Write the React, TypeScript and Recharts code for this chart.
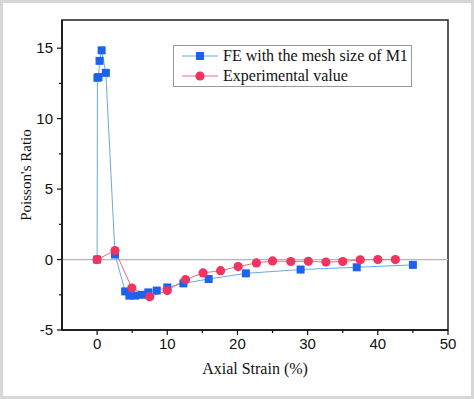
import { LineChart, Line, XAxis, YAxis, ReferenceLine, ReferenceArea, Legend } from 'recharts';

// FE results, mesh size M1
const feStrain = [0, 0.05, 0.2, 0.35, 0.65, 1.25, 2.55, 4.0, 4.6, 5.4, 6.4, 7.3, 8.5, 10.0, 12.3, 15.9, 21.2, 29.0, 37.0, 45.0];
const fePoisson = [0, 12.9, 12.95, 14.1, 14.85, 13.25, 0.36, -2.26, -2.56, -2.56, -2.5, -2.33, -2.2, -1.98, -1.69, -1.38, -0.98, -0.71, -0.55, -0.38];

// experimental values
const expStrain = [0, 2.55, 4.95, 7.5, 10.0, 12.6, 15.1, 17.6, 20.1, 22.7, 25.0, 27.6, 30.1, 32.6, 35.0, 37.5, 40.0, 42.5];
const expPoisson = [0, 0.64, -2.02, -2.64, -2.2, -1.43, -0.95, -0.79, -0.5, -0.24, -0.1, -0.14, -0.12, -0.18, -0.14, -0.02, 0, 0];

const xTicks = [0, 5, 10, 15, 20, 25, 30, 35, 40, 45, 50];
const xLabels = [0, 10, 20, 30, 40, 50];
const yTicks = [-5, -2.5, 0, 2.5, 5, 7.5, 10, 12.5, 15];
const yLabels = [-5, 0, 5, 10, 15];

const feData = feStrain.map((s, i) => ({ strain: s, value: fePoisson[i] }));
const expData = expStrain.map((s, i) => ({ strain: s, value: expPoisson[i] }));

const BLUE = '#1b62ee';
const BLUE_LINE = '#67abe3';
const PINK = '#f2325f';
const PINK_LINE = '#f36888';
const TICK_FONT = '"Liberation Sans", Arial, sans-serif';
const SERIF = '"Liberation Serif", "Times New Roman", serif';

function XTick(props: any) {
  const { x, y, payload } = props;
  const major = xLabels.includes(payload.value);
  return (
    <g>
      <line x1={x} x2={x} y1={y} y2={y + (major ? 5 : 3)} stroke="#111" strokeWidth={1.2} />
      {major && (
        <text x={x} y={y + 19} textAnchor="middle" fontFamily={TICK_FONT} fontSize={15} fill="#111">
          {payload.value}
        </text>
      )}
    </g>
  );
}

function YTick(props: any) {
  const { x, y, payload } = props;
  const major = yLabels.includes(payload.value);
  return (
    <g>
      <line x1={x} x2={x - (major ? 5 : 3)} y1={y} y2={y} stroke="#111" strokeWidth={1.2} />
      {major && (
        <text x={x - 9} y={y + 5} textAnchor="end" fontFamily={TICK_FONT} fontSize={15} fill="#111">
          {payload.value}
        </text>
      )}
    </g>
  );
}

function SquareDot(props: any) {
  const { cx, cy, index } = props;
  if (cx == null || cy == null) return <g key={index} />;
  return <rect key={index} x={cx - 4} y={cy - 4} width={8} height={8} fill={BLUE} />;
}

function CircleDot(props: any) {
  const { cx, cy, index } = props;
  if (cx == null || cy == null) return <g key={index} />;
  return <circle key={index} cx={cx} cy={cy} r={4.6} fill={PINK} />;
}

function LegendBox() {
  return (
    <div
      style={{
        width: 239,
        height: 42,
        border: '1px solid #999',
        background: '#fff',
        fontFamily: SERIF,
        fontSize: 16,
        color: '#111',
        boxSizing: 'border-box',
      }}
    >
      {[
        { name: 'FE with the mesh size of M1', line: BLUE_LINE, kind: 'sq' },
        { name: 'Experimental value', line: PINK_LINE, kind: 'ci' },
      ].map((it) => (
        <div key={it.name} style={{ display: 'flex', alignItems: 'center', height: 20 }}>
          <svg width={49} height={20}>
            <line x1={8} x2={44} y1={10} y2={10} stroke={it.line} strokeWidth={1} />
            {it.kind === 'sq' ? (
              <rect x={22} y={6} width={8} height={8} fill={BLUE} />
            ) : (
              <circle cx={26} cy={10} r={4.6} fill={PINK} />
            )}
          </svg>
          <span>{it.name}</span>
        </div>
      ))}
    </div>
  );
}

export default function App() {
  return (
    <div
      style={{
        position: 'absolute',
        left: 0,
        top: 0,
        width: 474,
        height: 399,
        border: '3px solid #d7d7d7',
        boxSizing: 'border-box',
        background: '#fff',
      }}
    >
      <LineChart width={468} height={393} margin={{ top: 17, right: 23, left: 0, bottom: 0 }}>
        <XAxis
          dataKey="strain"
          type="number"
          domain={[-5, 50]}
          ticks={xTicks}
          interval={0}
          allowDuplicatedCategory={false}
          height={66}
          tickSize={0}
          tickMargin={0}
          tickLine={false}
          tick={<XTick />}
          axisLine={{ stroke: '#111', strokeWidth: 1.5 }}
          label={({ viewBox }: any) => (
            <text
              x={viewBox.x + viewBox.width / 2}
              y={viewBox.y + 44}
              textAnchor="middle"
              fontFamily={SERIF}
              fontSize={16}
              fill="#111"
            >
              Axial Strain (%)
            </text>
          )}
        />
        <YAxis
          dataKey="value"
          type="number"
          domain={[-5, 17]}
          ticks={yTicks}
          interval={0}
          width={59}
          tickSize={0}
          tickMargin={0}
          tickLine={false}
          tick={<YTick />}
          axisLine={{ stroke: '#111', strokeWidth: 1.5 }}
          label={({ viewBox }: any) => {
            const cx = viewBox.x + 23;
            const cy = viewBox.y + viewBox.height / 2;
            return (
              <text
                x={cx}
                y={cy}
                transform={`rotate(-90 ${cx} ${cy})`}
                textAnchor="middle"
                dominantBaseline="central"
                fontFamily={SERIF}
                fontSize={15}
                fill="#111"
              >
                Poisson's Ratio
              </text>
            );
          }}
        />
        <ReferenceArea x1={-5} x2={50} y1={-5} y2={17} fill="none" stroke="#222" strokeWidth={1.5} ifOverflow="visible" />
        <ReferenceLine y={0} stroke="#b5b5b5" strokeWidth={1.2} />
        <Legend
          layout="horizontal"
          verticalAlign="middle"
          align="center"
          content={<LegendBox />}
          wrapperStyle={{ position: 'absolute', left: 170, top: 42, width: 239, height: 42 }}
        />
        <Line
          data={feData}
          dataKey="value"
          name="FE with the mesh size of M1"
          stroke={BLUE_LINE}
          strokeWidth={1}
          dot={SquareDot}
          activeDot={false}
          isAnimationActive={false}
        />
        <Line
          data={expData}
          dataKey="value"
          name="Experimental value"
          stroke={PINK_LINE}
          strokeWidth={1}
          dot={CircleDot}
          activeDot={false}
          isAnimationActive={false}
        />
      </LineChart>
    </div>
  );
}
